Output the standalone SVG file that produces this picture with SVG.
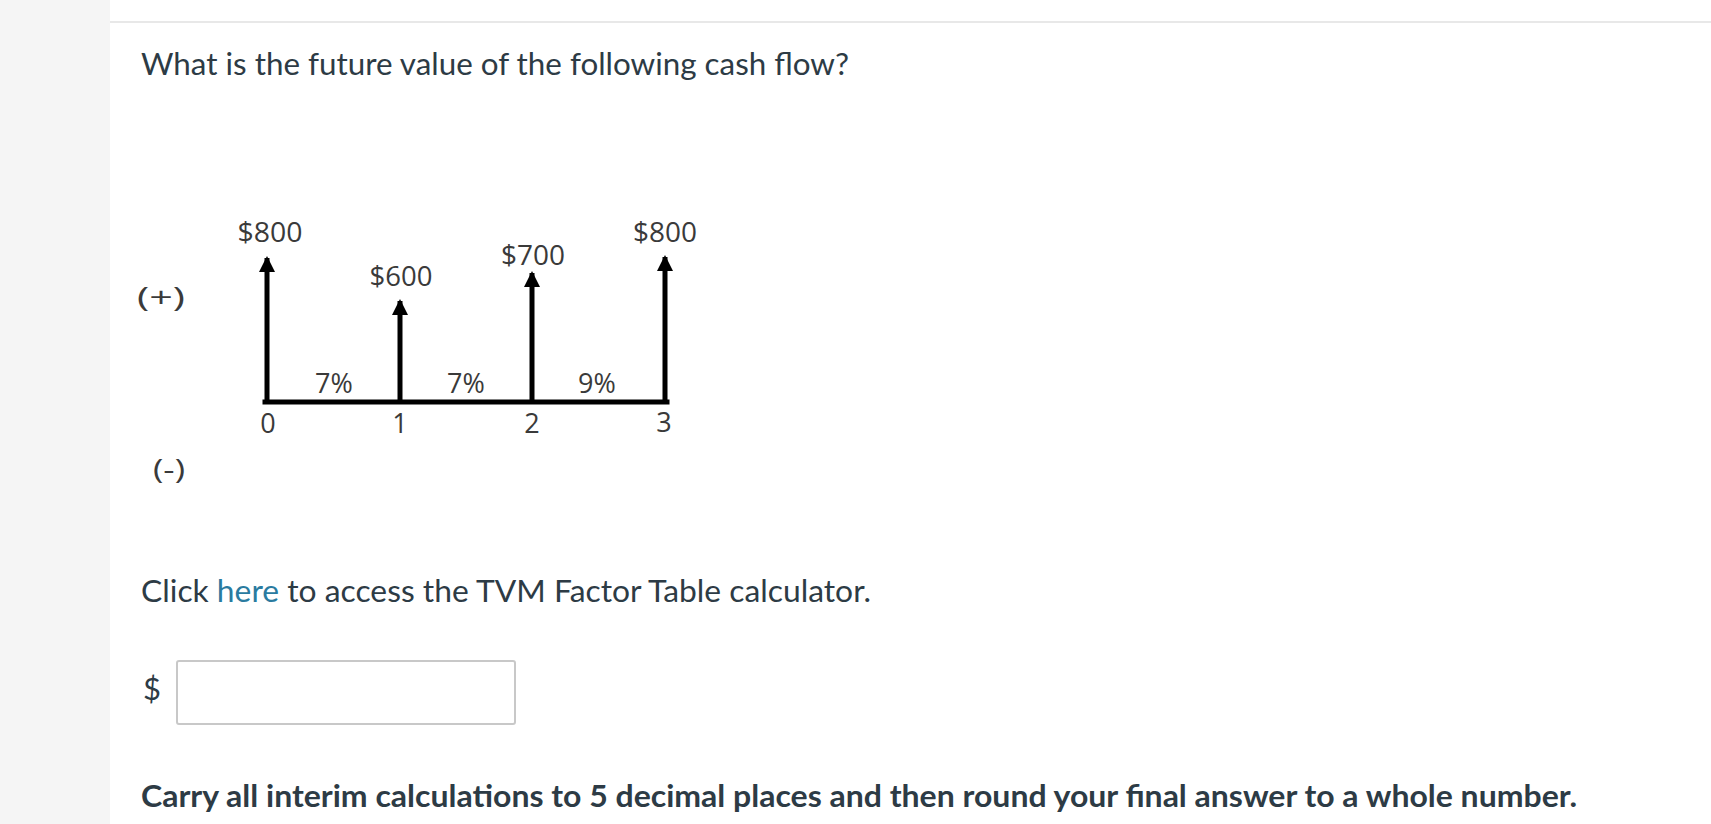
<svg xmlns="http://www.w3.org/2000/svg" width="1711" height="824" viewBox="0 0 1711 824">
<style>
.q{font-family:Lato,"Open Sans",sans-serif;font-size:31px;fill:#2d3b45}
.b{font-family:Lato,"Open Sans",sans-serif;font-size:31px;font-weight:bold;fill:#2d3b45}
.d{font-family:"Open Sans","Liberation Sans",sans-serif;font-size:27px;fill:#3a3a3a}
.ln{stroke:#000;stroke-width:5;fill:none}
</style>
<rect x="0" y="0" width="1711" height="824" fill="#fff"/>
<rect x="0" y="0" width="110" height="824" fill="#f5f5f5"/>
<line x1="110" y1="22" x2="1711" y2="22" stroke="#e8e8e8" stroke-width="2"/>
<g id="question"><text class="q" x="141" y="75" textLength="708" lengthAdjust="spacingAndGlyphs">What is the future value of the following cash flow?</text></g>
<g id="signs">
<text class="d" x="137" y="307" textLength="48" lengthAdjust="spacingAndGlyphs">(+)</text>
<text class="d" x="153" y="479" textLength="32" lengthAdjust="spacingAndGlyphs">(-)</text>
</g>
<g id="connectors">
<line class="ln" x1="265" y1="402" x2="667" y2="402" stroke-linecap="square"/>
<line class="ln" x1="267" y1="402" x2="267" y2="258"/>
<line class="ln" x1="400" y1="402" x2="400" y2="301"/>
<line class="ln" x1="532" y1="402" x2="532" y2="273"/>
<line class="ln" x1="665" y1="402" x2="665" y2="257"/>
<path d="M259,272 L267,256 L275,272 Z M392,315 L400,299 L408,315 Z M524,287 L532,271 L540,287 Z M657,271 L665,255 L673,271 Z" fill="#000"/>
</g>
<g id="cf0"><text class="d" x="270" y="242" text-anchor="middle" textLength="65" lengthAdjust="spacingAndGlyphs">$800</text><text class="d" x="268" y="433" text-anchor="middle">0</text></g>
<g id="cf1"><text class="d" x="401" y="286" text-anchor="middle" textLength="63" lengthAdjust="spacingAndGlyphs">$600</text><text class="d" x="400" y="433" text-anchor="middle">1</text></g>
<g id="cf2"><text class="d" x="533" y="265" text-anchor="middle" textLength="64" lengthAdjust="spacingAndGlyphs">$700</text><text class="d" x="532" y="433" text-anchor="middle">2</text></g>
<g id="cf3"><text class="d" x="665" y="242" text-anchor="middle" textLength="64" lengthAdjust="spacingAndGlyphs">$800</text><text class="d" x="664" y="432" text-anchor="middle">3</text></g>
<g id="rates">
<text class="d" x="334" y="393" text-anchor="middle">7%</text>
<text class="d" x="466" y="393" text-anchor="middle">7%</text>
<text class="d" x="597" y="393" text-anchor="middle">9%</text>
</g>
<g id="link"><text class="q" x="141" y="602" textLength="730" lengthAdjust="spacingAndGlyphs">Click <tspan fill="#2a7ba0">here</tspan> to access the TVM Factor Table calculator.</text></g>
<g id="answer">
<text class="q" x="143" y="700">$</text>
<rect x="177" y="661" width="338" height="63" rx="2" fill="#fff" stroke="#c8c8c8" stroke-width="2"/>
</g>
<g id="note"><text class="b" x="141" y="807" textLength="1436" lengthAdjust="spacingAndGlyphs">Carry all interim calculations to 5 decimal places and then round your final answer to a whole number.</text></g>
</svg>
